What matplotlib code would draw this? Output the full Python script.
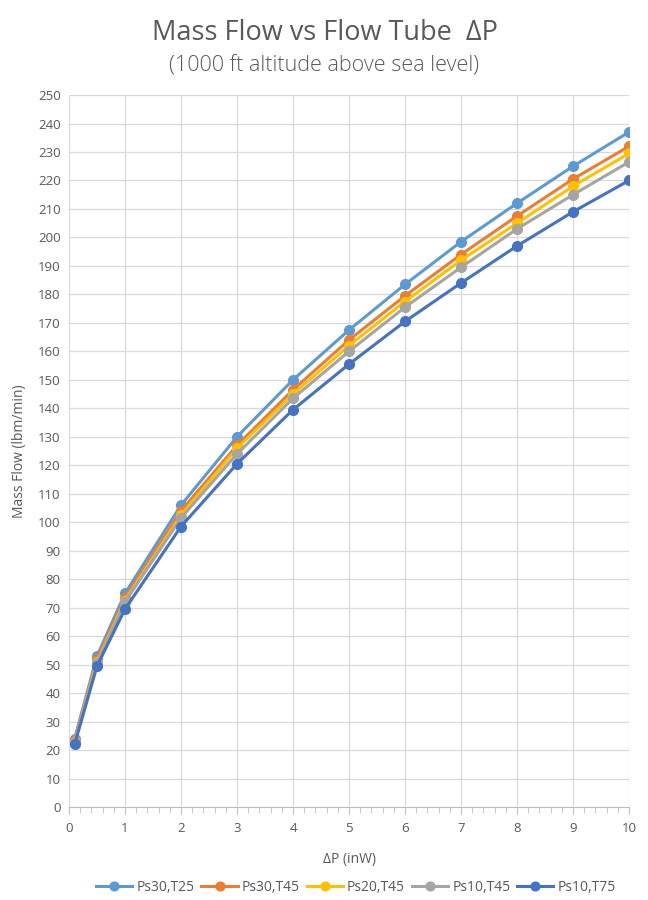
import matplotlib
matplotlib.use("Agg")
import matplotlib.pyplot as plt
from matplotlib.ticker import MultipleLocator

plt.rcParams['font.family'] = ['Open Sans', 'DejaVu Sans']

dp = [0.1, 0.5, 1, 2, 3, 4, 5, 6, 7, 8, 9, 10]
ps30_t25 = [24, 53, 75, 106, 130, 150, 167.5, 183.5, 198.5, 212, 225, 237]
ps30_t45 = [23.5, 52, 73.5, 104, 127, 146.5, 164, 179.5, 194, 207.5, 220.5, 232]
ps20_t45 = [23, 51, 72.5, 102.5, 126, 145, 162, 177.5, 192, 205, 218, 229.5]
ps10_t45 = [23, 50.5, 72, 101.5, 124, 143.5, 160, 175.5, 189.5, 203, 215, 226.5]
ps10_t75 = [22, 49.5, 69.5, 98.5, 120.5, 139.5, 155.5, 170.5, 184, 197, 209, 220]

series = [
    ("Ps30,T25", ps30_t25, "#5B9BD5"),
    ("Ps30,T45", ps30_t45, "#ED7D31"),
    ("Ps20,T45", ps20_t45, "#FFC000"),
    ("Ps10,T45", ps10_t45, "#A5A5A5"),
    ("Ps10,T75", ps10_t75, "#4472C4"),
]

fig = plt.figure(figsize=(6.48, 9), dpi=100)
ax = fig.add_axes([0.1065, 0.1033, 0.8642, 0.7911])

for name, vals, col in series:
    ax.plot(dp, vals, color=col, lw=2.2, marker='o', ms=7, label=name)

ax.set_xlim(0, 10)
ax.set_ylim(0, 250)
ax.xaxis.set_major_locator(MultipleLocator(1))
ax.xaxis.set_minor_locator(MultipleLocator(0.2))
ax.yaxis.set_major_locator(MultipleLocator(10))
ax.grid(True, which='major', color='#D9D9D9', lw=0.9)
ax.set_axisbelow(True)
for s in ['top', 'right', 'left']:
    ax.spines[s].set_visible(False)
ax.spines['bottom'].set_color('#BFBFBF')
ax.tick_params(axis='y', length=0, labelsize=9.5, labelcolor='#595959', pad=6)
ax.tick_params(axis='x', which='major', length=5, color='#BFBFBF', labelsize=9.5, labelcolor='#595959', pad=6)
ax.tick_params(axis='x', which='minor', length=4, color='#BFBFBF')

ax.set_xlabel("ΔP (inW)", fontsize=10, color='#595959', labelpad=12)
ax.set_ylabel("Mass Flow (lbm/min)", fontsize=10, color='#595959', labelpad=8)

fig.text(0.502, 0.963, "Mass Flow vs Flow Tube  ΔP", ha='center', va='center', fontsize=19.5, color='#595959')
fig.text(0.500, 0.927, "(1000 ft altitude above sea level)", ha='center', va='center', fontsize=15.5, color='#595959', fontweight='light')

ax.legend(loc='center', bbox_to_anchor=(0.5125, -0.1135), ncol=5, frameon=False, fontsize=10,
          labelcolor='#595959', handlelength=2.6, handletextpad=0.3, columnspacing=0.5, markerscale=0.9,
          borderpad=0, borderaxespad=0)

fig.savefig("out.png", dpi=100)
